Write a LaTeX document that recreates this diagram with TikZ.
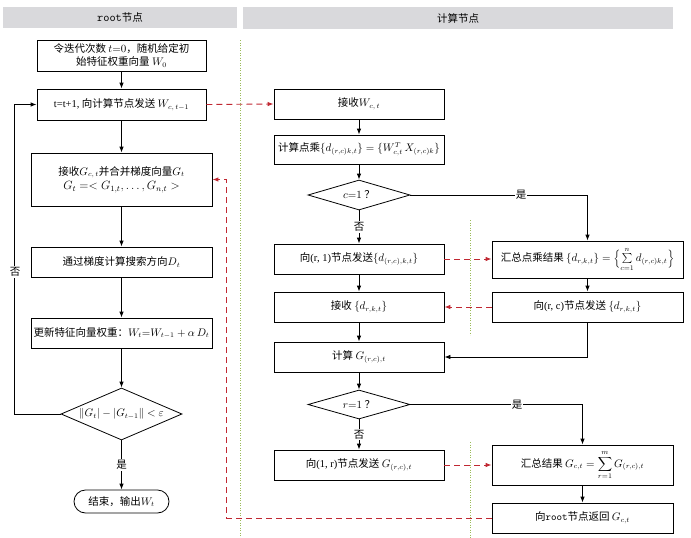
\documentclass[tikz,border=0pt]{standalone}
\usepackage{fontspec}
\setmainfont{Noto Sans CJK SC}
\newfontfamily\lat{Liberation Serif}
\usetikzlibrary{arrows.meta,shapes.geometric}
\definecolor{hdr}{RGB}{217,217,220}
\definecolor{redd}{RGB}{192,40,50}
\definecolor{grn}{RGB}{155,187,89}
\begin{document}
\begin{tikzpicture}[x=1pt,y=-1pt,
  every node/.style={font=\fontsize{10.5}{13}\selectfont},
  box/.style={draw, line width=0.8pt, inner sep=0pt, align=center},
  dia/.style={draw, diamond, line width=0.8pt, inner sep=0pt, aspect=2.5},
  hbar/.style={fill=hdr, draw=none, inner sep=0pt},
  arr/.style={line width=0.8pt, -{Latex[length=6pt,width=4.5pt]}},
  red arr/.style={line width=0.9pt, redd, dash pattern=on 6pt off 4pt, -{Latex[length=6pt,width=4.5pt]}},
  sep/.style={grn, line width=1pt, dash pattern=on 1.2pt off 1.3pt},
  lbl/.style={fill=white, inner sep=1pt}
]
\useasboundingbox (0,0) rectangle (691,538);
% headers
\node[hbar, minimum width=234, minimum height=21] (h1) at (120,17.5) {{\ttfamily\large root}节点};
\node[hbar, minimum width=430, minimum height=22] (h2) at (458,18) {计算节点};
% separators
\draw[sep] (240,40) -- (240,538);
\draw[sep] (470,220) -- (470,335);
\draw[sep] (470,442) -- (470,538);
% left column
\node[box, minimum width=169, minimum height=31] (b1) at (121.5,55.5)
  {令迭代次数 $t{=}0$，随机给定初\\始特征权重向量 $W_0$};
\node[box, minimum width=169, minimum height=31] (b2) at (121.5,104.5)
  {{\lat t=t+1,} 向计算节点发送 $W_{c,\,t-1}$};
\node[box, minimum width=181, minimum height=53] (b3) at (121.5,179.5)
  {接收$G_{c,\,t}$并合并梯度向量$G_t$\\[1pt] {\large $G_t = <G_{1,t},\ldots,G_{n,t}>$}};
\node[box, minimum width=181, minimum height=30] (b4) at (121.5,262)
  {通过梯度计算搜索方向$D_t$};
\node[box, minimum width=181, minimum height=30] (b5) at (121.5,333)
  {更新特征向量权重：$W_t{=}W_{t-1}+\alpha\,D_t$};
\node[dia, minimum width=121, minimum height=52] (d1) at (121.5,414)
  {$\|G_t|-|G_{t-1}\|<\varepsilon$};
\node[box, rounded corners=11.5pt, minimum width=95, minimum height=23] (e1) at (121.5,501.5)
  {结束，输出$W_t$};
% right column
\node[box, minimum width=170, minimum height=30] (r1) at (359,104) {接收$W_{c,\,t}$};
\node[box, minimum width=170, minimum height=29] (r2) at (359,149.5)
  {计算点乘$\{d_{(r,c)k,t}\}=\{W^{T}_{c,t}\,X_{(r,c)k}\}$};
\node[dia, minimum width=102, minimum height=30, aspect=3.4] (d2) at (359,195) {$c{=}1$ ？};
\node[box, minimum width=170, minimum height=30] (r3) at (359,259)
  {向{\lat (r, 1)}节点发送$\bigl\{d_{(r,c),k,t}\bigr\}$};
\node[box, minimum width=191, minimum height=37] (s1) at (587.5,259.5)
  {汇总点乘结果 $\bigl\{d_{r,k,t}\bigr\}=\Bigl\{\sum\limits_{c=1}^{n} d_{(r,c)k,t}\Bigr\}$};
\node[box, minimum width=170, minimum height=30] (r4) at (359,307) {接收 $\bigl\{d_{r,k,t}\bigr\}$};
\node[box, minimum width=191, minimum height=30] (s2) at (587.5,307)
  {向{\lat (r, c)}节点发送 $\bigl\{d_{r,k,t}\bigr\}$};
\node[box, minimum width=170, minimum height=30] (r5) at (359,357) {计算 $G_{(r,c),t}$};
\node[dia, minimum width=102, minimum height=29, aspect=3.4] (d3) at (359,404.5) {$r{=}1$ ？};
\node[box, minimum width=170, minimum height=30] (r6) at (359,465)
  {向{\lat (1, r)}节点发送 $G_{(r,c),t}$};
\node[box, minimum width=181, minimum height=40] (s3) at (582.5,465)
  {汇总结果 $G_{c,t}=\displaystyle\sum_{r=1}^{m} G_{(r,c),t}$};
\node[box, minimum width=181, minimum height=30] (s4) at (582.5,518)
  {向{\ttfamily root}节点返回 $G_{c,t}$};
% left connectors
\draw[arr] (b1) -- (b2);
\draw[arr] (b2) -- (b3);
\draw[arr] (b3) -- (b4);
\draw[arr] (b4) -- (b5);
\draw[arr] (b5) -- (d1);
\draw[arr] (d1) -- node[lbl] (y1) {是} (e1);
\draw[arr] (d1.west) -- ++(-46,0) coordinate (lp) |- (b2.west);
\node[lbl] (n1) at (15,272) {否};
% right connectors
\draw[arr] (r1) -- (r2);
\draw[arr] (r2) -- (d2);
\draw[arr] (d2) -- node[lbl] (n2) {否} (r3);
\draw[arr] (d2.east) -| (s1.north);
\node[lbl] (y2) at (521,195) {是};
\draw[arr] (r3) -- (r4);
\draw[arr] (s1) -- (s2);
\draw[arr] (r4) -- (r5);
\draw[arr] (s2.south) |- (r5.east);
\draw[arr] (r5) -- (d3);
\draw[arr] (d3) -- node[lbl] (n3) {否} (r6);
\draw[arr] (d3.east) -| (s3.north);
\node[lbl] (y3) at (517,404.5) {是};
\draw[arr] (s3) -- (s4);
% red dashed messages
\draw[red arr] (b2.east) -- (r1.west);
\draw[red arr] (r3.east) -- (r3.east -| s1.west);
\draw[red arr] (s2.west) -- (r4.east);
\draw[red arr] (r6.east) -- (s3.west);
\draw[red arr] (s4.west) -- ++(-265,0) coordinate (rc) |- (b3.east);
\end{tikzpicture}
\end{document}
